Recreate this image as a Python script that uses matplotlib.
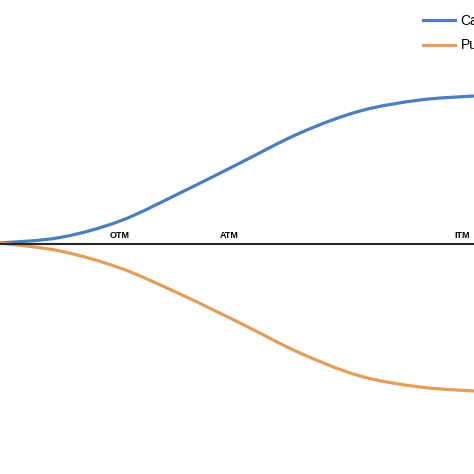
import numpy as np
import matplotlib
matplotlib.use("Agg")
import matplotlib.pyplot as plt
from matplotlib.path import Path
from matplotlib.patches import PathPatch
from matplotlib.lines import Line2D

plt.rcParams['font.family'] = ['Liberation Sans', 'DejaVu Sans']

# underlying price (arbitrary units) and option value
spot = [0, 60, 120, 180, 240, 300, 360, 420, 474]
call = [0, 5.5, 22, 50, 80, 110, 132, 143, 147]
put = [0, 8, 25, 51, 80, 110, 133, 144, 148]

moneyness = ["OTM", "ATM", "ITM"]
moneyness_x = [120, 229, 462]

BLUE = "#4A7EBF"
ORANGE = "#E39E5A"


def smooth_path(xs, ys):
    # smoothed line like the spreadsheet option: Catmull-Rom segments as cubic Beziers
    pts = np.column_stack([xs, ys]).astype(float)
    verts = [pts[0]]
    codes = [Path.MOVETO]
    n = len(pts)
    for i in range(n - 1):
        p0 = pts[max(i - 1, 0)]
        p1 = pts[i]
        p2 = pts[i + 1]
        p3 = pts[min(i + 2, n - 1)]
        c1 = p1 + (p2 - p0) / 6.0
        c2 = p2 - (p3 - p1) / 6.0
        verts += [c1, c2, p2]
        codes += [Path.CURVE4] * 3
    return Path(verts, codes)


fig = plt.figure(figsize=(4.74, 4.74), dpi=100)
ax = fig.add_axes([0, 0, 1, 1])

ax.add_patch(PathPatch(smooth_path(spot, call), fill=False, edgecolor=BLUE, lw=2.3))
ax.add_patch(PathPatch(smooth_path(spot, [-v for v in put]), fill=False, edgecolor=ORANGE, lw=2.3))
ax.axhline(-1, color="#262626", lw=1.5, zorder=1)

for lab, xx in zip(moneyness, moneyness_x):
    ax.text(xx, 3, lab, ha="center", va="bottom", fontsize=6.5, fontweight="bold")

ax.set_xlim(0, 474)
ax.set_ylim(-231, 243)
ax.axis("off")

handles = [Line2D([], [], color=BLUE, lw=2.3), Line2D([], [], color=ORANGE, lw=2.3)]
ax.legend(handles, ["Call", "Put"], loc="upper left",
          bbox_to_anchor=(423 / 474, 1 - 14 / 474), frameon=False,
          fontsize=10, handlelength=2.3, handletextpad=0.4, labelspacing=0.75,
          borderaxespad=0, borderpad=0)

fig.savefig("out.png", dpi=100)
